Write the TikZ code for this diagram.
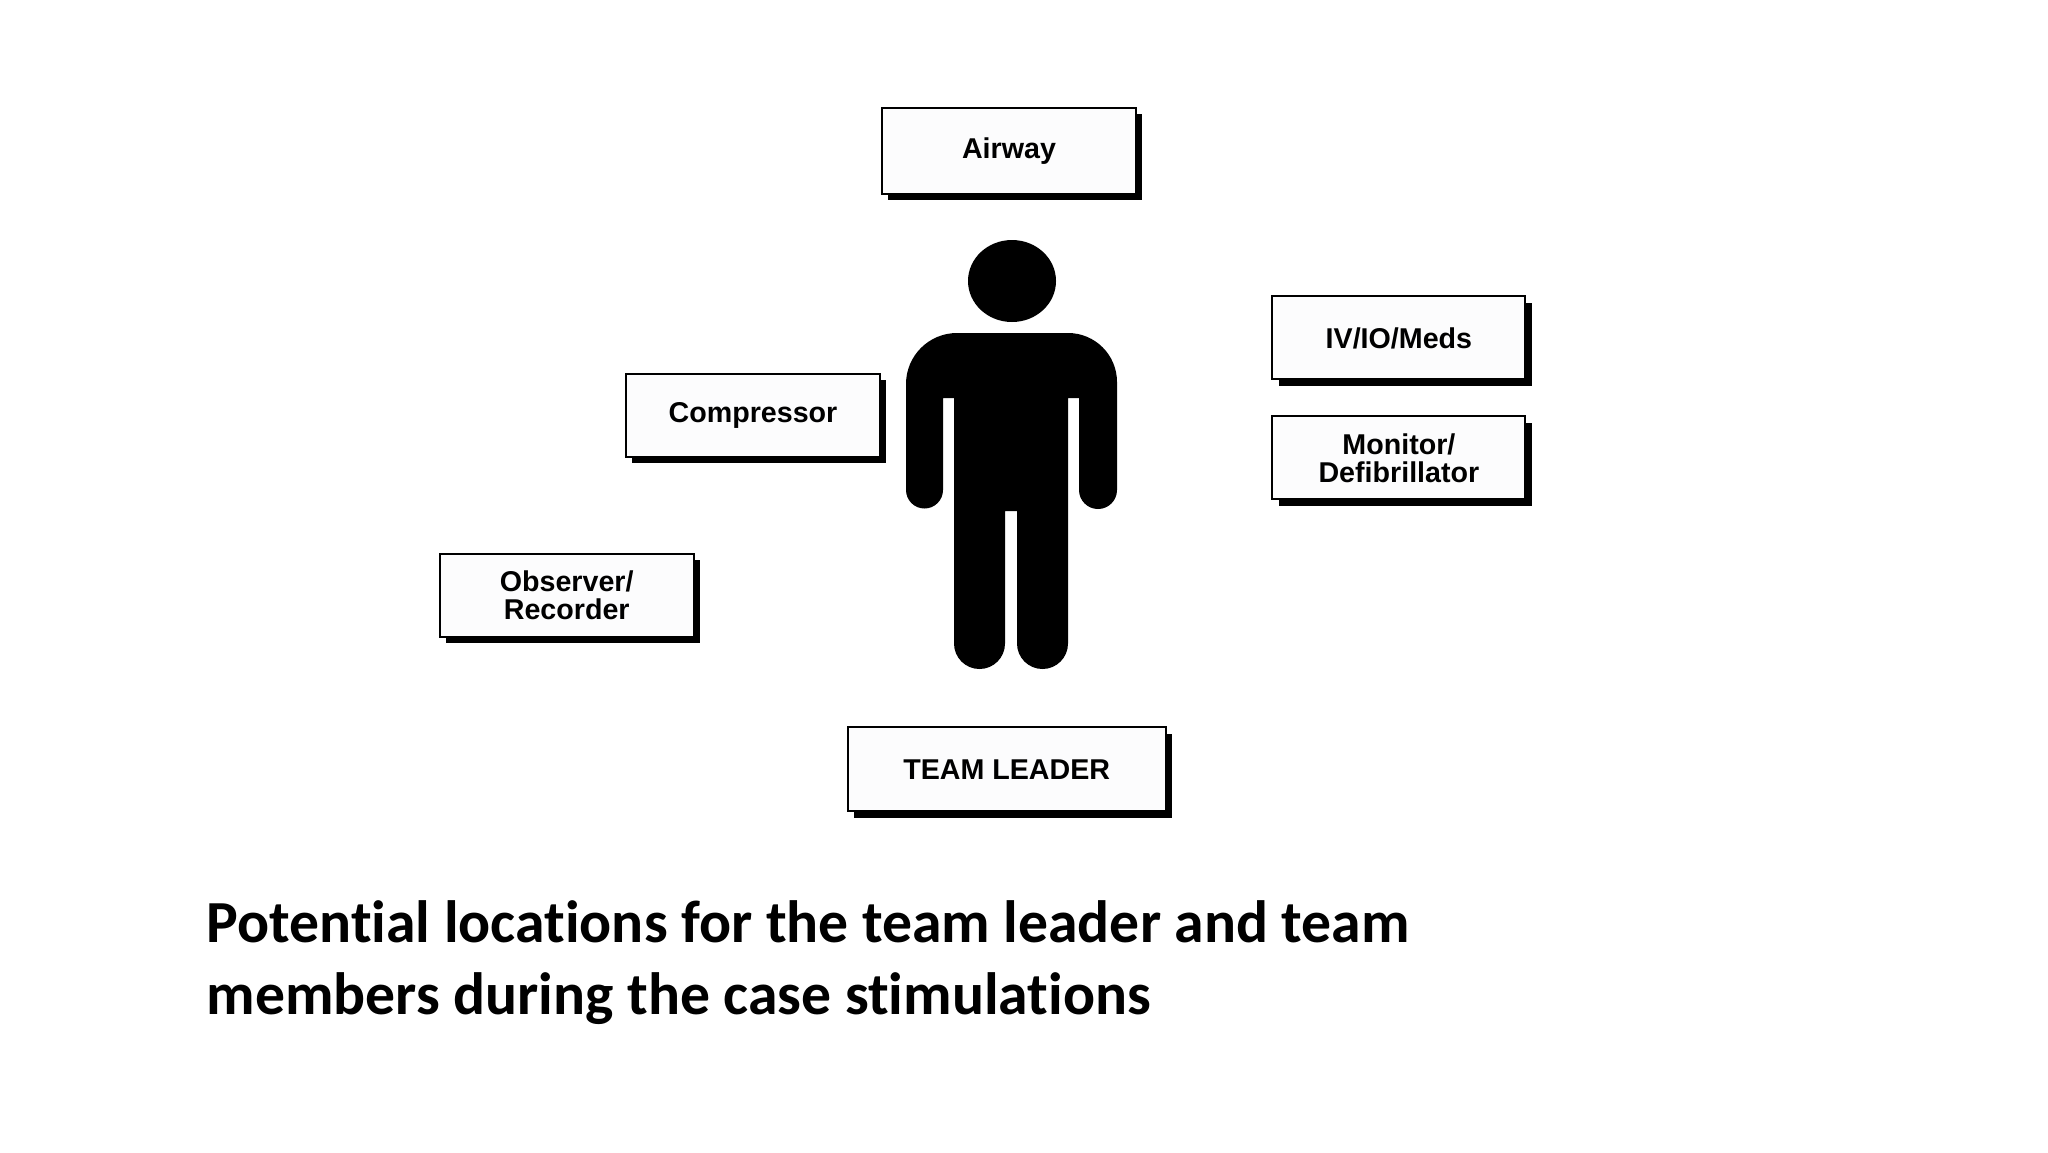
\documentclass[tikz,border=0pt]{standalone}
\usepackage{fontspec}
\setmainfont{Liberation Sans}
\newfontfamily\captionfont[Ligatures=NoCommon]{Carlito}
\usetikzlibrary{positioning, shadows, shapes.geometric}

\definecolor{boxfill}{RGB}{252,252,253}

\tikzset{
	rolebox/.style={draw=black,line width=0.2mm,fill=boxfill,align=center,
		minimum width=25.4mm,minimum height=8.3mm,inner sep=0pt,
		font=\fontsize{8.15}{7.95}\selectfont\bfseries,
		drop shadow={shadow xshift=0.62mm,shadow yshift=-0.62mm,fill=black,opacity=1}},
	captionline/.style={inner sep=0pt,font=\fontsize{16.98}{18}\captionfont\bfseries}
}

\begin{document}
\begin{tikzpicture}[x=1mm,y=1mm]

		\useasboundingbox (0,0) rectangle (204.8,-115.2);

		% upper boxes
		\node[rolebox,minimum height=8.6mm,anchor=north west] at (88.1,-10.7) (airway){Airway};
		\node[rolebox,below right=10.04mm and 13.44mm of airway.south east,anchor=north west,minimum width=25.3mm]
			(ivio){IV/IO/Meds};
		\node[rolebox,below=3.5mm of ivio.south west,anchor=north west,minimum width=25.3mm]
			(monitor){Monitor/\\Defibrillator};

		% left boxes
		\node[rolebox,below=17.8mm of airway.south west,anchor=north east]
			(compressor){Compressor};
		\node[rolebox,below left=9.5mm and 18.63mm of compressor.south west,anchor=north west]
			(observer){Observer/\\Recorder};

		% leader
		\node[rolebox,below=53.14mm of airway.south,xshift=-0.23mm,minimum width=31.8mm,minimum height=8.4mm]
			(leader){TEAM LEADER};

		% person
		\node[ellipse,fill=black,minimum width=8.8mm,minimum height=8.2mm,inner sep=0pt] at (101.2,-28.1) (head){};
		\fill[black] (95.7,-33.3) -- (106.8,-33.3) arc[start angle=90,end angle=0,radius=4.9]
			-- (111.7,-49) arc[start angle=0,end angle=-180,radius=1.9]
			-- (107.9,-39.8) -- (106.8,-39.8)
			-- (106.8,-64.35) arc[start angle=0,end angle=-180,radius=2.55]
			-- (101.7,-51.1) -- (100.5,-51.1)
			-- (100.5,-64.35) arc[start angle=0,end angle=-180,radius=2.55]
			-- (95.4,-39.8) -- (94.3,-39.8)
			-- (94.3,-49) arc[start angle=0,end angle=-180,radius=1.85]
			-- (90.6,-38.4) arc[start angle=180,end angle=90,radius=5.1] -- cycle;

		% caption
		\node[captionline,anchor=base west] at (20.6,-94.2) (captionone){Potential locations for the team leader and team};
		\node[captionline,below=7.2mm of captionone.base west,anchor=base west] (captiontwo){members during the case stimulations};

	\end{tikzpicture}
\end{document}
